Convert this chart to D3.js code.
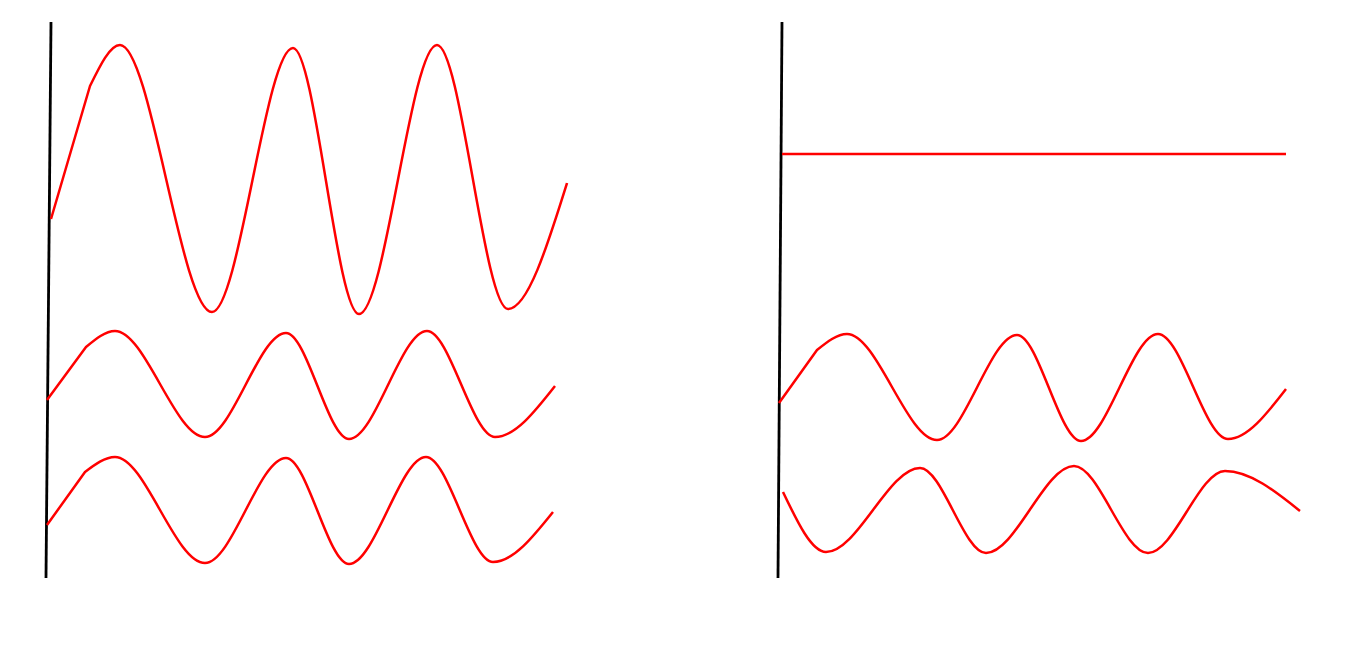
<!DOCTYPE html>
<html>
<head>
<meta charset="utf-8">
<script src="https://cdn.jsdelivr.net/npm/d3@7"></script>
<style>
  html, body { margin: 0; padding: 0; background: #fff; }
</style>
</head>
<body>
<div class="container"></div>
<script>
"use strict";

// vertical "axis" strokes, one per panel: [x, y] top and bottom
const axisLeft = [[51, 22], [46, 578]]
const axisRight = [[782, 22], [778, 578]]

// flat line in the right panel
const flatRight = [[782, 154], [1286, 154]]

// wave knots (start, kink, then peaks / troughs, end)
const waveLeftTop = [[51, 219], [90, 86], [120, 45], [212, 312], [293, 48], [359, 314], [437, 45], [508, 309], [567, 183]]
const waveLeftMid = [[47, 400], [86, 347], [115, 331], [205, 437], [286, 333], [349, 439], [427, 331], [495, 437], [555, 386]]
const waveLeftLow = [[47, 525], [85, 472], [115, 457], [205, 563], [286, 458], [349, 564], [426, 457], [493, 562], [553, 512]]
const waveRightMid = [[779, 403], [817, 350], [847, 334], [937, 440], [1017, 335], [1081, 441], [1158, 334], [1228, 439], [1286, 389]]
// this one has no straight lead-in
const waveRightLow = [[783, 492], [826, 552], [920, 468], [986, 553], [1074, 466], [1148, 553], [1225, 471], [1300, 511]]

const p = {
	width: 1358,
	height: 647
}

const svg = d3.select('.container')
	.append('svg')
	.attr('width', p.width)
	.attr('height', p.height)

const x = d3.scaleLinear().domain([0, p.width]).range([0, p.width])
const y = d3.scaleLinear().domain([0, p.height]).range([0, p.height])

const straight = d3.line().x(d => x(d[0])).y(d => y(d[1]))
const wavy = d3.line().x(d => x(d[0])).y(d => y(d[1])).curve(d3.curveMonotoneX)

function stroke(d, color, w) {
	svg.append('path')
		.attr('d', d)
		.attr('fill', 'none')
		.attr('stroke', color)
		.attr('stroke-width', w)
		.attr('stroke-linejoin', 'round')
}

//black strokes
stroke(straight(axisLeft), 'black', 2.8)
stroke(straight(axisRight), 'black', 2.8)

stroke(straight(flatRight), 'red', 2.5)

//red waves: straight lead-in up to the kink, then the smooth part
;[waveLeftTop, waveLeftMid, waveLeftLow, waveRightMid].forEach(w => {
	stroke(straight(w.slice(0, 2)) + wavy(w.slice(1)).replace(/^M[^C]*/, 'L' + x(w[1][0]) + ',' + y(w[1][1])), 'red', 2.5)
})
stroke(wavy(waveRightLow), 'red', 2.5)
</script>
</body>
</html>
